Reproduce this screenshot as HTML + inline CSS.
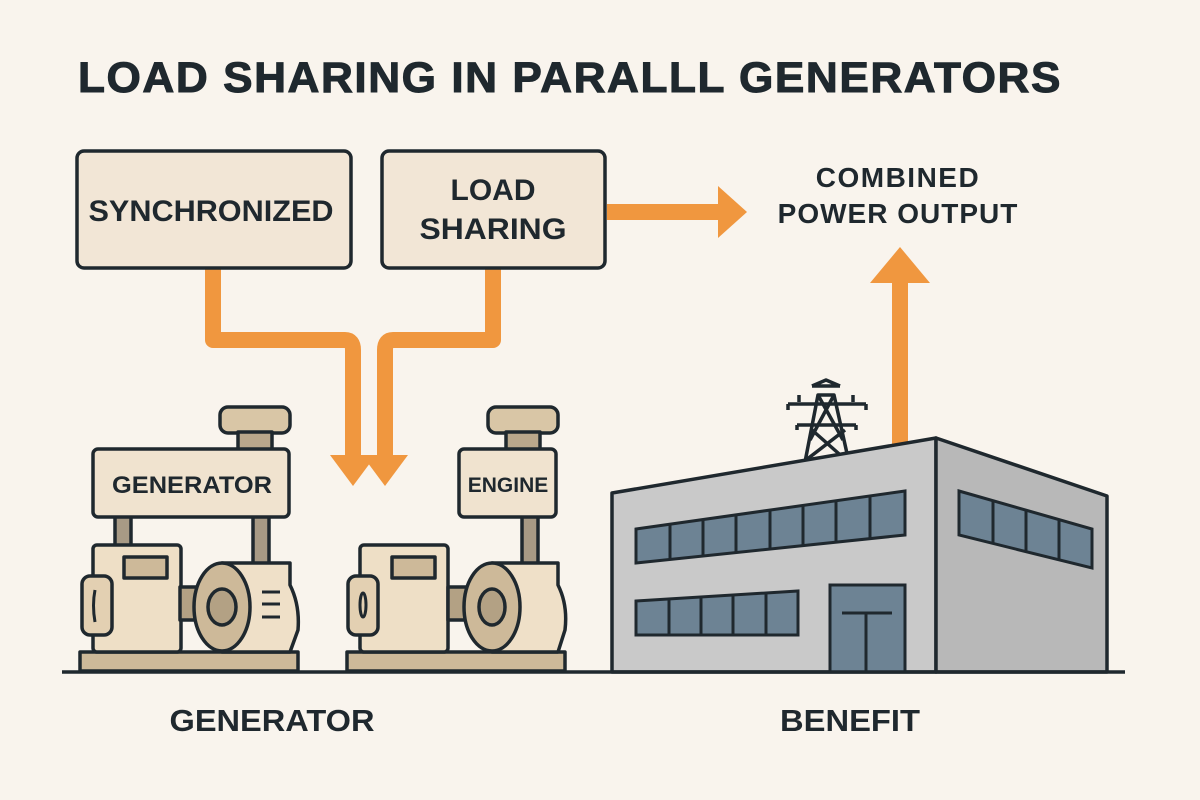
<!DOCTYPE html>
<html><head><meta charset="utf-8"><style>
html,body{margin:0;padding:0;background:#f9f4ed;}
svg{display:block}
text{font-family:"Liberation Sans",sans-serif;font-weight:bold;fill:#1f282e}
</style></head><body>
<svg width="1200" height="800" viewBox="0 0 1200 800" xmlns="http://www.w3.org/2000/svg">
<rect width="1200" height="800" fill="#f9f4ed"/>
<text x="78" y="92" font-size="43" letter-spacing="1.5" stroke="#1f282e" stroke-width="1" textLength="984" lengthAdjust="spacingAndGlyphs">LOAD SHARING IN PARALLL GENERATORS</text>

<!-- orange connectors -->
<g fill="none" stroke="#f0973f" stroke-width="16" stroke-linejoin="round">
<path d="M213 268 V340 H345 Q353 340 353 350 V458"/>
<path d="M493 268 V340 H393 Q385 340 385 350 V458"/>
<path d="M607 212 H722"/>
<path d="M900 444 V280"/>
</g>
<g fill="#f0973f">
<polygon points="330,455 376,455 353,486"/>
<polygon points="362,455 408,455 385,486"/>
<polygon points="718,186 747,212 718,238"/>
<polygon points="870,283 930,283 900,247"/>
</g>

<!-- top boxes -->
<g stroke="#1f282e" stroke-width="3.5" fill="#f2e6d6">
<rect x="77" y="151" width="274" height="117" rx="7"/>
<rect x="382" y="151" width="223" height="117" rx="7"/>
</g>
<text x="211" y="221" font-size="30" text-anchor="middle" textLength="245" lengthAdjust="spacingAndGlyphs">SYNCHRONIZED</text>
<text x="493" y="200" font-size="30" text-anchor="middle">LOAD</text>
<text x="493" y="239" font-size="30" text-anchor="middle" textLength="147" lengthAdjust="spacingAndGlyphs">SHARING</text>
<text x="898" y="187" font-size="28" text-anchor="middle" letter-spacing="1.5">COMBINED</text>
<text x="898" y="223" font-size="28" text-anchor="middle" letter-spacing="1">POWER OUTPUT</text>

<!-- generators -->
<g stroke="#1f282e" stroke-width="3.5" stroke-linejoin="round">
<rect x="220" y="407" width="70" height="26" rx="8" fill="#d9c6a6"/>
<rect x="238" y="432" width="34" height="18" fill="#b9a78b"/>
<rect x="115" y="516" width="16" height="32" fill="#a89a85"/>
<rect x="253" y="516" width="16" height="50" fill="#a89a85"/>
<rect x="93" y="449" width="196" height="68" rx="5" fill="#f0e3cf"/>
<rect x="80" y="652" width="218" height="19" fill="#cdb999"/>
<rect x="93" y="545" width="88" height="107" rx="4" fill="#eedfc6"/>
<rect x="124" y="557" width="43" height="21" fill="#cdb999"/>
<rect x="82" y="576" width="30" height="59" rx="8" fill="#e3d0b2"/>
<path d="M222 563 H290 V585 Q300 605 298 630 L290 652 H222 Z" fill="#efe0c8"/>
<rect x="180" y="587" width="45" height="33" fill="#b3a184"/>
<ellipse cx="222" cy="607" rx="28" ry="44" fill="#cdb999"/>
<ellipse cx="222" cy="607" rx="14" ry="18" fill="#b3a184"/>
<rect x="488" y="407" width="70" height="26" rx="8" fill="#d9c6a6"/>
<rect x="506" y="432" width="34" height="18" fill="#b9a78b"/>
<rect x="522" y="516" width="16" height="50" fill="#a89a85"/>
<rect x="459" y="449" width="97" height="68" rx="5" fill="#f0e3cf"/>
<rect x="347" y="652" width="218" height="19" fill="#cdb999"/>
<rect x="360" y="545" width="88" height="107" rx="4" fill="#eedfc6"/>
<rect x="392" y="557" width="43" height="21" fill="#cdb999"/>
<rect x="348" y="576" width="30" height="59" rx="8" fill="#e3d0b2"/>
<path d="M492 563 H558 V585 Q568 605 565 630 L558 652 H492 Z" fill="#efe0c8"/>
<rect x="448" y="587" width="48" height="33" fill="#b3a184"/>
<ellipse cx="492" cy="607" rx="28" ry="44" fill="#cdb999"/>
<ellipse cx="492" cy="607" rx="13" ry="18" fill="#b3a184"/>
</g>
<g stroke="#1f282e" stroke-width="3" fill="none">
<path d="M262 592 H280 M262 604 H280 M262 617 H280"/>
<path d="M95 590 Q92 605 95 622"/>
<ellipse cx="363" cy="605" rx="3" ry="12"/>
</g>
<text x="192" y="493" font-size="24" text-anchor="middle" textLength="160" lengthAdjust="spacingAndGlyphs">GENERATOR</text>
<text x="508" y="492" font-size="21" text-anchor="middle">ENGINE</text>

<!-- tower -->
<g stroke="#1f282e" stroke-width="3.5" fill="none" stroke-linejoin="round">
<path d="M805 462 L818 395 H834 L848 458"/>
<path d="M818 395 L843 440 M834 395 L810 440 M812 430 L846 460 M845 430 L806 460"/>
<path d="M812 386 L826 380 L840 386 M788 404 H866 M788 404 V410 M866 404 V410 M797 425 H856 M797 425 v5 M856 425 v5 M812 386 H840 M799 395 V402 M853 395 V402"/>
</g>

<!-- building -->
<g stroke="#1f282e" stroke-width="3.5" stroke-linejoin="round">
<polygon points="612,493 936,438 936,672 612,672" fill="#c9c9c9"/>
<polygon points="936,438 1107,496 1107,672 936,672" fill="#b8b8b8"/>
</g>
<g stroke="#1f282e" stroke-width="3" fill="#6d8394">
<polygon points="636,529 905,491 905,535 636,563"/>
<polygon points="636,601 798,591 798,635 636,635"/>
<polygon points="959,491 1092,529 1092,568 959,535"/>
<rect x="830" y="585" width="75" height="87"/>
</g>
<g stroke="#1f282e" stroke-width="3">
<path d="M670 524 V560 M703 520 V557 M736 515 V553 M770 510 V549 M803 505 V546 M836 501 V542 M870 496 V538"/>
<path d="M669 599 V635 M701 597 V635 M733 595 V635 M766 593 V635"/>
<path d="M993 501 V544 M1026 510 V552 M1059 520 V560"/>
<path d="M842 613 H892 M866 613 V672"/>
</g>
<line x1="62" y1="672" x2="1125" y2="672" stroke="#1f282e" stroke-width="3.5"/>

<text x="272" y="731" font-size="31" text-anchor="middle" textLength="205" lengthAdjust="spacingAndGlyphs">GENERATOR</text>
<text x="850" y="731" font-size="31" text-anchor="middle" textLength="140" lengthAdjust="spacingAndGlyphs">BENEFIT</text>
</svg>
</body></html>
